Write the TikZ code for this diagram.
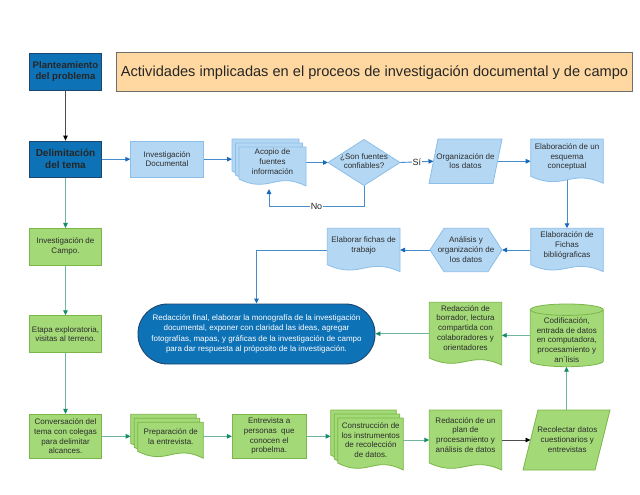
\documentclass[tikz,border=0pt]{standalone}
\usepackage{fontspec}
\setmainfont{Liberation Sans}
\usetikzlibrary{arrows.meta,calc}
\pgfdeclarelayer{bg}
\pgfsetlayers{bg,main}
\definecolor{dblue}{RGB}{14,114,183}
\definecolor{dbord}{RGB}{30,70,110}
\definecolor{lblue}{RGB}{180,215,243}
\definecolor{lbord}{RGB}{140,190,234}
\definecolor{lgreen}{RGB}{163,217,119}
\definecolor{gbord}{RGB}{122,182,72}
\definecolor{peach}{RGB}{254,216,160}
\definecolor{pbord}{RGB}{110,110,110}
\definecolor{lineb}{RGB}{70,140,205}
\definecolor{tipb}{RGB}{25,105,185}
\definecolor{lineg}{RGB}{110,180,160}
\definecolor{tipg}{RGB}{20,140,105}
\definecolor{txtc}{RGB}{45,45,45}

\tikzset{
 lbshape/.style={fill=lblue, draw=lbord, line width=0.8pt},
 gshape/.style={fill=lgreen, draw=gbord, line width=0.8pt},
 dshape/.style={fill=dblue, draw=dbord, line width=0.9pt},
 txt/.style={font=\fontsize{8}{9.7}\selectfont, text=txtc, align=center, inner sep=0pt},
 btxt/.style={font=\bfseries\fontsize{9.6}{11.3}\selectfont, text=black!85, align=center, inner sep=0pt},
 anc/.style={inner sep=0pt, outer sep=0pt, draw=none, fill=none},
 bconn/.style={draw=lineb, line width=0.9pt, -{Triangle[length=5pt,width=4.5pt,color=tipb]}},
 gconn/.style={draw=lineg, line width=0.9pt, -{Triangle[length=5pt,width=4.5pt,color=tipg]}},
 kconn/.style={draw=black!70, line width=0.8pt, -{Triangle[length=5pt,width=4.5pt,color=black]}},
 lbl/.style={font=\fontsize{9}{10}\selectfont, fill=white, inner sep=0.8pt, text=black!85},
}

% document shape: style, x0, y0, x1, yb
\newcommand\docpath[5]{%
 \path[#1] ({#2},{#3}) -- ({#4},{#3}) -- ({#4},{#5})
   .. controls ({#2+0.55*(#4-(#2))},{#5-15}) and ({#2+0.45*(#4-(#2))},{#5+8}) .. ({#2},{#5-7}) -- cycle;}
% stacked documents: style, x0, y0, x1, yb
\newcommand\multidoc[5]{%
 \docpath{#1}{#2}{#3}{#4-7}{#5-8}%
 \docpath{#1}{#2+3.5}{#3+4}{#4-3.5}{#5-4}%
 \docpath{#1}{#2+7}{#3+8}{#4}{#5}}
% cylinder: style, x0, y0, x1, y1
\newcommand\cylpath[5]{%
 \pgfmathsetmacro\crx{(#4-(#2))/2}%
 \path[#1] ({#2},{#3+5.7}) -- ({#2},{#5-5.7}) arc[start angle=180,end angle=360,x radius=\crx pt,y radius=5.7pt]
   -- ({#4},{#3+5.7}) arc[start angle=0,end angle=180,x radius=\crx pt,y radius=5.7pt] -- cycle;
 \path[#1, fill=none] ({#2},{#3+5.7}) arc[start angle=180,end angle=360,x radius=\crx pt,y radius=5.7pt];}

\begin{document}
\begin{tikzpicture}[x=1pt,y=-1pt]
\useasboundingbox (0,0) rectangle (640,495);

% title
\node[fill=peach, draw=pbord, line width=0.9pt, minimum width=516pt, minimum height=38.5pt, inner sep=0pt,
      font=\fontsize{14.6}{16}\selectfont, text=black!85] (title) at (374.5,72.2)
      {Actividades implicadas en el proceos de investigación documental y de campo};

% dark boxes
\node[dshape, btxt, minimum width=72.3pt, minimum height=36.7pt] (plan) at (65.5,71.7) {Planteamiento\\del problema};
\node[dshape, btxt, font=\bfseries\fontsize{10}{11.7}\selectfont, minimum width=72.3pt, minimum height=36.3pt] (delim) at (65.5,159.2) {Delimitación\\del tema};

% top row
\node[lbshape, txt, minimum width=72.6pt, minimum height=36.3pt] (invdoc) at (167,159.2) {Investigación\\Documental};

\multidoc{lbshape}{232}{139}{306}{186}
\node[anc, minimum width=74pt, minimum height=47pt] (acopio) at (269,162.5) {};
\node[txt] (acopioT) at (272.5,161.7) {Acopio de\\fuentes\\información};

\path[lbshape] (328,162.5) -- (364,139.5) -- (400,162.5) -- (364,185.5) -- cycle;
\node[anc, minimum width=72pt, minimum height=46pt] (dia) at (364,162.5) {};
\node[txt] (diaT) at (364,161) {¿Son fuentes\\confiables?};

\path[lbshape] (438,139) -- (502,139) -- (493,183.5) -- (429,183.5) -- cycle;
\node[anc, minimum width=73pt, minimum height=44.5pt] (org) at (465.5,161.25) {};
\coordinate (orgL) at (433.5,161.25);
\coordinate (orgR) at (497.5,161.25);
\node[txt] (orgT) at (465.5,161) {Organización de\\los datos};

\docpath{lbshape}{530.7}{139}{603.3}{183.3}
\node[anc, minimum width=72.6pt, minimum height=44.3pt] (esq) at (567,161.2) {};
\node[txt] (esqT) at (567,157) {Elaboración de un\\esquema\\conceptual};

% second row
\docpath{lbshape}{530.7}{228.3}{603.3}{271.7}
\node[anc, minimum width=72.6pt, minimum height=43.4pt] (fib) at (567,250) {};
\node[txt] (fibT) at (567,245.5) {Elaboración de\\Fichas\\bibliógraficas};

\path[lbshape] (430,250) -- (444,228.3) -- (488,228.3) -- (502,250) -- (488,271.7) -- (444,271.7) -- cycle;
\node[anc, minimum width=72pt, minimum height=43.4pt] (hex) at (466,250) {};
\node[txt] (hexT) at (466,249.5) {Análisis y\\organización de\\los datos};

\docpath{lbshape}{327.3}{228.3}{400}{271.7}
\node[anc, minimum width=72.7pt, minimum height=43.4pt] (efich) at (363.7,250) {};
\node[txt] (efichT) at (363.7,245.5) {Elaborar fichas de\\trabajo};

% final ellipse
\node[dshape, rounded corners=29.5pt, minimum width=237pt, minimum height=60pt, txt,
      font=\fontsize{8}{10.3}\selectfont, text=white] (ell) at (256.5,334)
 {Redacción final, elaborar la monografía de la investigación\\documental, exponer con claridad las ideas, agregar\\fotografías, mapas, y gráficas de la investigación de campo\\para dar respuesta al próposito de la investigación.};

% third row right
\docpath{gshape}{429.3}{302.3}{501.7}{365}
\node[anc, minimum width=72.4pt, minimum height=62.7pt] (borr) at (465.5,333.7) {};
\node[txt] (borrT) at (465.5,327.7) {Redacción de\\borrador, lectura\\compartida con\\colaboradores y\\orientadores};

\cylpath{gshape}{530.3}{304}{603.3}{366.7}
\node[anc, minimum width=73pt, minimum height=62.7pt] (cyl) at (566.8,335.35) {};
\node[txt] (cylT) at (566.8,339.8) {Codificación,\\entrada de datos\\en computadora,\\procesamiento y\\an´lisis};

% left column
\node[gshape, txt, minimum width=72.3pt, minimum height=36.7pt] (camp) at (65.5,246.7) {Investigación de\\Campo.};
\node[gshape, txt, minimum width=72.3pt, minimum height=36.7pt] (etapa) at (65.5,334) {Etapa exploratoria,\\visitas al terreno.};
\node[gshape, txt, minimum width=72.3pt, minimum height=44pt] (conv) at (65.5,436.3) {Conversación del\\tema con colegas\\para delimitar\\alcances.};

% bottom row
\multidoc{gshape}{130.7}{414.3}{203.3}{458.3}
\node[anc, minimum width=72.6pt, minimum height=44pt] (prep) at (167,436.3) {};
\node[txt] (prepT) at (170.8,436.5) {Preparación de\\la entrevista.};

\node[gshape, txt, minimum width=73.7pt, minimum height=44pt] (entr) at (269.2,436.3) {Entrevista a\\personas~ que\\conocen el\\probelma.};

\multidoc{gshape}{330.7}{410}{403.3}{470}
\node[anc, minimum width=72.6pt, minimum height=60pt] (cons) at (367,440) {};
\node[txt] (consT) at (370.8,440) {Construcción de\\los instrumentos\\de recolección\\de datos.};

\docpath{gshape}{429.3}{410}{501.7}{470}
\node[anc, minimum width=72.4pt, minimum height=60pt] (pland) at (465.5,440) {};
\node[txt] (plandT) at (465.5,434.8) {Redacción de un\\plan de\\procesamiento y\\análisis de datos};

\path[gshape] (538,410) -- (610,410) -- (595,470) -- (523,470) -- cycle;
\node[anc, minimum width=87pt, minimum height=60pt] (rec) at (566.5,440) {};
\coordinate (recL) at (530.5,440);
\node[txt] (recT) at (567.3,439.8) {Recolectar datos\\cuestionarios y\\entrevistas};

% connectors
\begin{pgfonlayer}{bg}
\fill[white] (0,0) rectangle (640,495);
\draw[kconn] (plan.south) -- (delim.north);
\draw[bconn] (delim.east) -- (invdoc.west);
\draw[bconn] (invdoc.east) -- (invdoc.east -| acopio.west);
\draw[bconn] (acopio.east) -- (dia.west);
\draw[bconn] (dia.east) -- node[lbl] (si) {Sí} (orgL);
\draw[bconn, shorten >=3pt] (dia.south) -- ++(0,20.5) -| node[lbl, pos=0.25] (no) {No} (acopio.south);
\draw[bconn] (orgR) -- (orgR -| esq.west);
\draw[bconn] (esq.center) -- (fib.north);
\draw[bconn] (fib.west) -- (hex.east);
\draw[bconn] (hex.west) -- (efich.east);
\draw[bconn] (efich.west) -| (ell.north);
\draw[gconn] (delim.south) -- (camp.north);
\draw[gconn] (camp.south) -- (etapa.north);
\draw[gconn] (etapa.south) -- (conv.north);
\draw[gconn] (conv.east) -- (prep.west);
\draw[gconn] (prep.east) -- (entr.west);
\draw[gconn] (entr.east) -- (entr.east -| cons.west);
\draw[gconn] (cons.east) -- (pland.west);
\draw[kconn] (pland.east) -- (recL);
\draw[gconn] (rec.north) -- (rec.north |- cyl.south);
\draw[gconn] (cyl.west) -- (cyl.west -| borr.east);
\draw[gconn] (borr.west) -- (borr.west -| ell.east);
\end{pgfonlayer}
\end{tikzpicture}
\end{document}
